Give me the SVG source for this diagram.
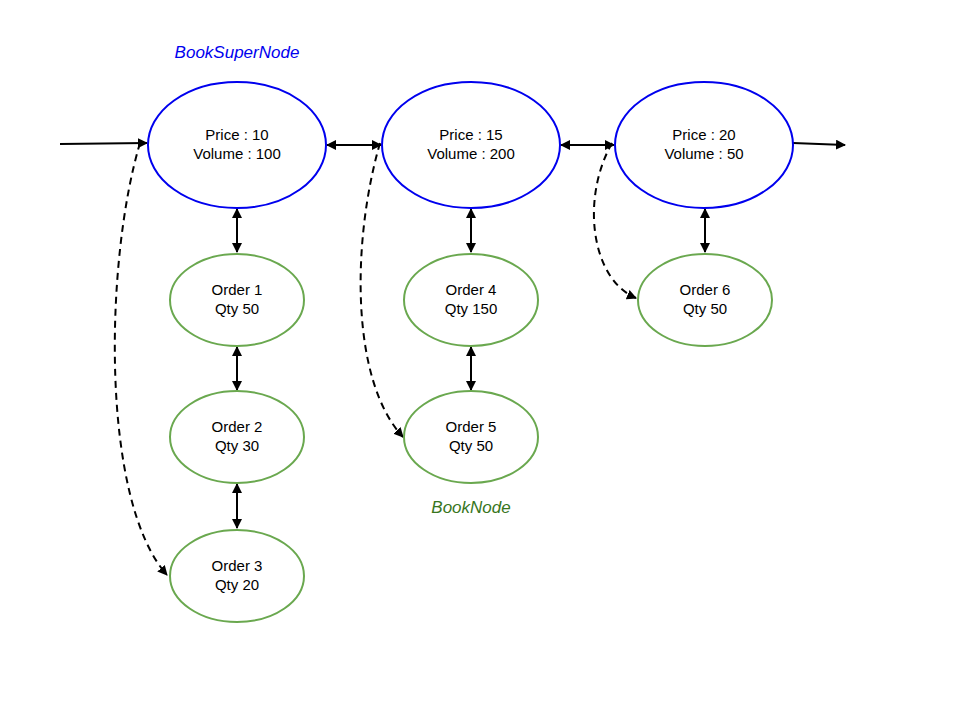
<svg xmlns="http://www.w3.org/2000/svg" width="960" height="720" viewBox="0 0 960 720">
<style>
.sup{fill:#fff;stroke:#0000ee;stroke-width:2}
.ord{fill:#fff;stroke:#6aa84f;stroke-width:2}
text{font-family:Arial,"Liberation Sans",sans-serif;font-size:15px;fill:#000;text-anchor:middle}
.lbl{font-style:italic;font-size:17px}
.c{fill:none;stroke:#000;stroke-width:2}
.d{stroke-dasharray:7,5}
</style>
<defs>
<marker id="a" viewBox="0 0 10 10" refX="9" refY="5" markerWidth="5" markerHeight="5" orient="auto-start-reverse"><path d="M0,0L10,5L0,10z" fill="#000"/></marker>
</defs>
<rect width="960" height="720" fill="#fff"/>
<g id="connectors">
<path class="c" d="M60,144L147,143" marker-end="url(#a)"/>
<path class="c" d="M793,143L845,145" marker-end="url(#a)"/>
<path class="c" d="M327,145L381,145" marker-start="url(#a)" marker-end="url(#a)"/>
<path class="c" d="M561,145L614,145" marker-start="url(#a)" marker-end="url(#a)"/>
<path class="c" d="M237,209L237,252" marker-start="url(#a)" marker-end="url(#a)"/>
<path class="c" d="M237,347L237,390" marker-start="url(#a)" marker-end="url(#a)"/>
<path class="c" d="M237,484L237,528" marker-start="url(#a)" marker-end="url(#a)"/>
<path class="c" d="M471,209L471,252" marker-start="url(#a)" marker-end="url(#a)"/>
<path class="c" d="M471,347L471,390" marker-start="url(#a)" marker-end="url(#a)"/>
<path class="c" d="M705,209L705,252" marker-start="url(#a)" marker-end="url(#a)"/>
<path class="c d" d="M140,143C105,260 100,500 167,575" marker-end="url(#a)"/>
<path class="c d" d="M380,143C352,240 350,380 403,437" marker-end="url(#a)"/>
<path class="c d" d="M612,143C580,200 592,280 636,298" marker-end="url(#a)"/>
</g>
<text class="lbl" x="237" y="58" style="fill:#0000ee">BookSuperNode</text>
<text class="lbl" x="471" y="513" style="fill:#38761d">BookNode</text>
<g id="s1"><ellipse class="sup" cx="237" cy="145" rx="89" ry="63"/><text x="237" y="140">Price : 10</text><text x="237" y="159">Volume : 100</text></g>
<g id="s2"><ellipse class="sup" cx="471" cy="145" rx="89" ry="63"/><text x="471" y="140">Price : 15</text><text x="471" y="159">Volume : 200</text></g>
<g id="s3"><ellipse class="sup" cx="704" cy="145" rx="89" ry="63"/><text x="704" y="140">Price : 20</text><text x="704" y="159">Volume : 50</text></g>
<g id="o1"><ellipse class="ord" cx="237" cy="300" rx="67" ry="46"/><text x="237" y="295">Order 1</text><text x="237" y="314">Qty 50</text></g>
<g id="o2"><ellipse class="ord" cx="237" cy="437" rx="67" ry="46"/><text x="237" y="432">Order 2</text><text x="237" y="451">Qty 30</text></g>
<g id="o3"><ellipse class="ord" cx="237" cy="576" rx="67" ry="46"/><text x="237" y="571">Order 3</text><text x="237" y="590">Qty 20</text></g>
<g id="o4"><ellipse class="ord" cx="471" cy="300" rx="67" ry="46"/><text x="471" y="295">Order 4</text><text x="471" y="314">Qty 150</text></g>
<g id="o5"><ellipse class="ord" cx="471" cy="437" rx="67" ry="46"/><text x="471" y="432">Order 5</text><text x="471" y="451">Qty 50</text></g>
<g id="o6"><ellipse class="ord" cx="705" cy="300" rx="67" ry="46"/><text x="705" y="295">Order 6</text><text x="705" y="314">Qty 50</text></g>
</svg>
